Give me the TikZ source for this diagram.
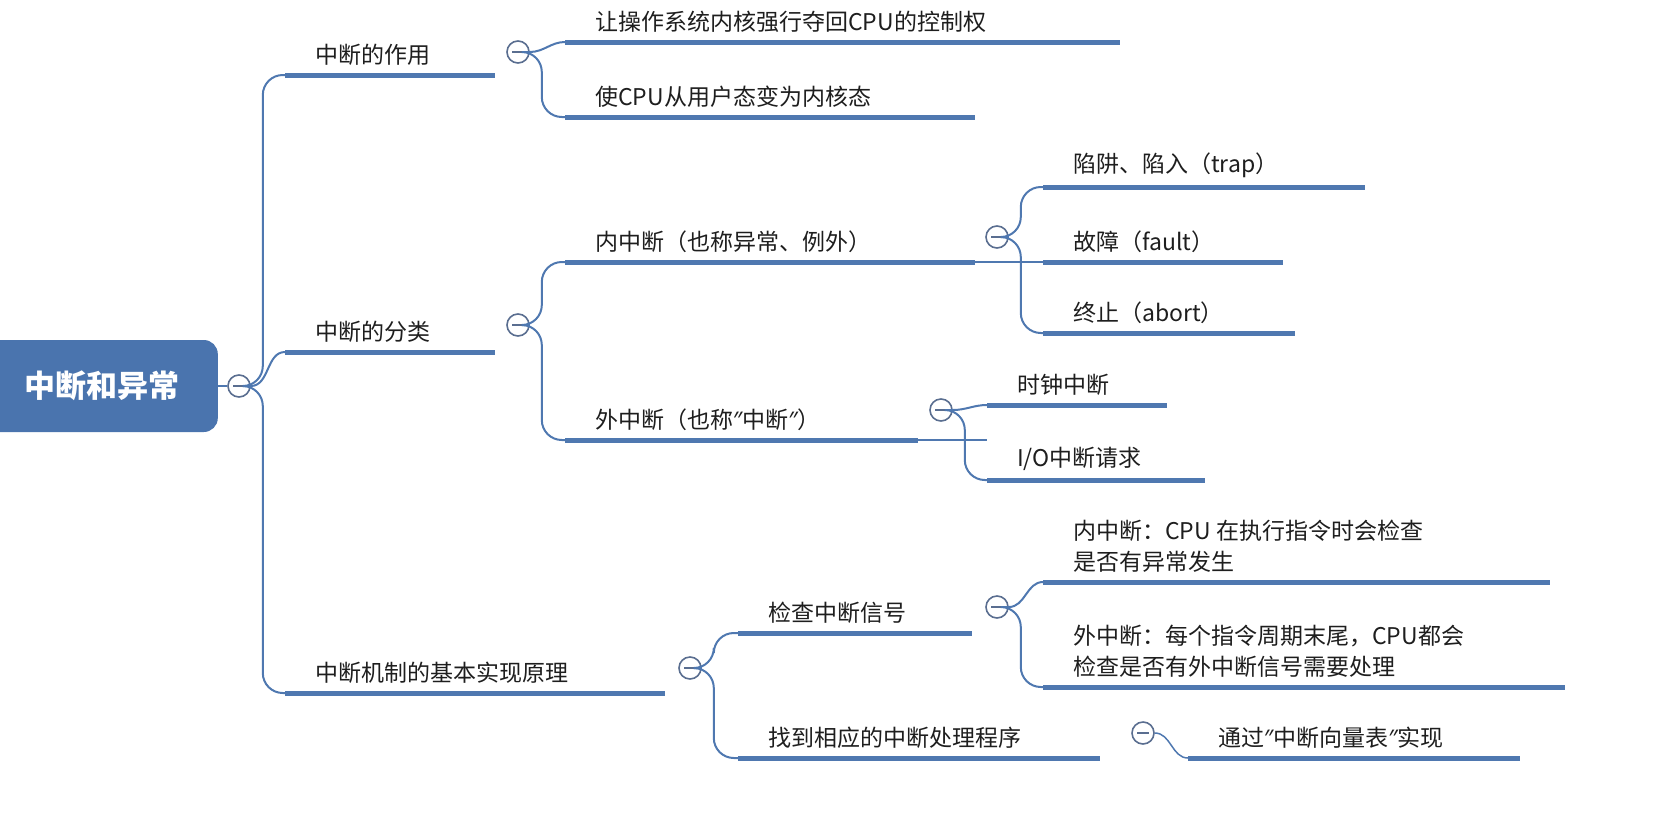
\documentclass[tikz,border=0pt]{standalone}
\usepackage{fontspec}
\setmainfont{Noto Sans CJK SC}
\newfontfamily\lat{Noto Sans}
\definecolor{bl}{HTML}{4F78B0}
\definecolor{rootc}{HTML}{4A74AE}
\definecolor{cir}{HTML}{5A6E90}
\definecolor{tx}{HTML}{1E1E1E}
\tikzset{
  ul/.style={bl,line width=5pt},
  conn/.style={bl,line width=2pt},
  lbl/.style={anchor=south west,inner sep=0pt,text=tx,font=\fontsize{23}{31}\selectfont,align=left},
  cbtn/.style={circle,draw=cir,line width=1.6pt,fill=white,minimum size=22pt,inner sep=0pt,
    path picture={\draw[cir,line width=1.6pt] ([xshift=-6pt]path picture bounding box.center)--([xshift=6pt]path picture bounding box.center);}}
}
% name, x1, x2, y, text
\newcommand\mmitem[5]{%
  \coordinate (#1s) at (#2,#4);
  \coordinate (#1e) at (#3,#4);
  \draw[ul] (#1s)--(#1e);
  \node[lbl] (#1t) at (#2+30,#4-9) {#5};
}
% \mmlink[radius]{from node}{to item}
\newcommand\mmlink[3][14pt]{\draw[conn,rounded corners=#1] (#2.east) -- ++(12pt,0) |- (#3s);}
\newcommand\mmcurve[2]{\draw[conn] (#1.east) to[out=0,in=180] (#2s);}
\begin{document}
\begin{tikzpicture}[x=1pt,y=-1pt]
\node[fill=rootc,rounded corners=14pt,minimum width=250pt,minimum height=92pt,anchor=east,
  text=white,font=\fontsize{31}{36}\selectfont\bfseries] (root) at (218,386) {\hspace*{18pt}中断和异常};
\node[cbtn] (c0) at (239,386) {};
\draw[bl,line width=2pt] (root.east)--(c0.west);

\mmitem{a}{285}{495}{75}{中断的作用}
\mmitem{b}{285}{495}{352}{中断的分类}
\mmitem{c}{285}{665}{693}{中断机制的基本实现原理}
\mmlink[20pt]{c0}{a}\mmcurve{c0}{b}\mmlink[20pt]{c0}{c}
\node[cbtn] (ca) at (518,52) {};
\node[cbtn] (cb) at (518,325) {};
\node[cbtn] (cc) at (690,668) {};

\mmitem{a1}{565}{1120}{42}{让操作系统内核强行夺回CPU的控制权}
\mmitem{a2}{565}{975}{117}{使CPU从用户态变为内核态}
\mmcurve{ca}{a1}\mmlink[20pt]{ca}{a2}

\mmitem{b1}{565}{975}{262}{内中断（也称异常、例外）}
\mmitem{b2}{565}{918}{440}{外中断（也称{\lat ″}中断{\lat ″}）}
\mmlink[20pt]{cb}{b1}\mmlink[20pt]{cb}{b2}
\draw[bl,line width=1.5pt] (b1e)--(1043,262);
\draw[bl,line width=1.5pt] (b2e)--(987,440);
\node[cbtn] (cb1) at (997,237) {};
\node[cbtn] (cb2) at (941,410) {};

\mmitem{c1}{738}{972}{633}{检查中断信号}
\mmitem{c2}{738}{1100}{758}{找到相应的中断处理程序}
\mmlink[20pt]{cc}{c1}\mmlink[20pt]{cc}{c2}
\node[cbtn] (cc1) at (997,607) {};
\node[cbtn] (cc2) at (1143,733) {};

\mmitem{d1}{1043}{1365}{187}{陷阱、陷入（trap）}
\mmitem{d2}{1043}{1283}{262}{故障（fault）}
\mmitem{d3}{1043}{1295}{333}{终止（abort）}
\mmlink[20pt]{cb1}{d1}\mmlink[20pt]{cb1}{d3}

\mmitem{e1}{987}{1167}{405}{时钟中断}
\mmitem{e2}{987}{1205}{480}{I/O中断请求}
\mmcurve{cb2}{e1}\mmlink[20pt]{cb2}{e2}

\mmitem{f1}{1043}{1550}{582}{内中断：CPU 在执行指令时会检查\\是否有异常发生}
\mmitem{f2}{1043}{1565}{687}{外中断：每个指令周期末尾，CPU都会\\检查是否有外中断信号需要处理}
\mmcurve{cc1}{f1}\mmlink[20pt]{cc1}{f2}

\mmitem{g1}{1188}{1520}{758}{通过{\lat ″}中断向量表{\lat ″}实现}
\draw[bl,line width=1.5pt] (cc2.east) to[out=0,in=180] (g1s);
\pgfresetboundingbox
\useasboundingbox (0,0) rectangle (1662,812);
\end{tikzpicture}
\end{document}
